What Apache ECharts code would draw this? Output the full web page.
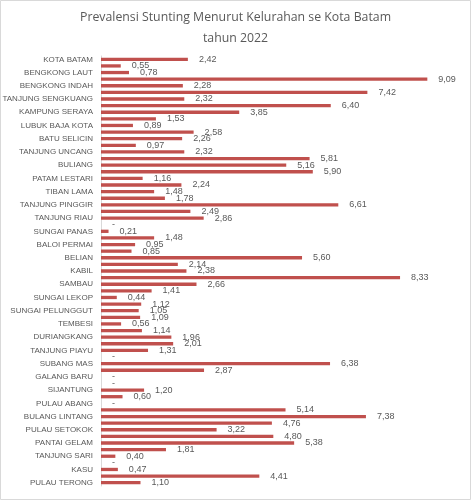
<!DOCTYPE html>
<html>
<head>
<meta charset="utf-8">
<style>
  html, body { margin: 0; padding: 0; background: #fff; }
  #chart { width: 471px; height: 500px; }
</style>
<script src="https://cdn.jsdelivr.net/npm/echarts@6/dist/echarts.min.js"></script>
</head>
<body>
<div id="chart"></div>
<script>
// ---- data (top to bottom); only every other row carries a visible label ----
const categories = [
    'KOTA BATAM', '', 'BENGKONG LAUT', '', 'BENGKONG INDAH', '', 'TANJUNG SENGKUANG', '',
    'KAMPUNG SERAYA', '', 'LUBUK BAJA KOTA', '', 'BATU SELICIN', '', 'TANJUNG UNCANG', '',
    'BULIANG', '', 'PATAM LESTARI', '', 'TIBAN LAMA', '', 'TANJUNG PINGGIR', '',
    'TANJUNG RIAU', '', 'SUNGAI PANAS', '', 'BALOI PERMAI', '', 'BELIAN', '',
    'KABIL', '', 'SAMBAU', '', 'SUNGAI LEKOP', '', 'SUNGAI PELUNGGUT', '',
    'TEMBESI', '', 'DURIANGKANG', '', 'TANJUNG PIAYU', '', 'SUBANG MAS', '',
    'GALANG BARU', '', 'SIJANTUNG', '', 'PULAU ABANG', '', 'BULANG LINTANG', '',
    'PULAU SETOKOK', '', 'PANTAI GELAM', '', 'TANJUNG SARI', '', 'KASU', '',
    'PULAU TERONG'
];
const prevalensi = [
    2.42, 0.55, 0.78, 9.09, 2.28, 7.42, 2.32, 6.40,
    3.85, 1.53, 0.89, 2.58, 2.26, 0.97, 2.32, 5.81,
    5.16, 5.90, 1.16, 2.24, 1.48, 1.78, 6.61, 2.49,
    2.86, 0, 0.21, 1.48, 0.95, 0.85, 5.60, 2.14,
    2.38, 8.33, 2.66, 1.41, 0.44, 1.12, 1.05, 1.09,
    0.56, 1.14, 1.96, 2.01, 1.31, 0, 6.38, 2.87,
    0, 0, 1.20, 0.60, 0, 5.14, 7.38, 4.76,
    3.22, 4.80, 5.38, 1.81, 0.40, 0, 0.47, 4.41,
    1.10
];

const chart = echarts.init(document.getElementById('chart'));
chart.setOption({
    backgroundColor: '#fff',
    animation: false,
    title: {
        text: 'Prevalensi Stunting Menurut Kelurahan se Kota Batam\ntahun 2022',
        left: 'center',
        top: 2,
        textStyle: {
            fontFamily: 'Open Sans',
            fontSize: 12.3,
            fontWeight: 'normal',
            color: '#595959',
            lineHeight: 21,
        },
    },
    graphic: [{
        type: 'rect',
        shape: { x: 0.5, y: 0.5, width: 470, height: 499 },
        style: { fill: 'none', stroke: '#d9d9d9', lineWidth: 1 },
        silent: true,
    }],
    grid: { left: 101, right: 11, top: 56, bottom: 14, outerBoundsMode: 'none', containLabel: false },
    xAxis: {
        type: 'value',
        min: 0,
        max: 10,
        show: false,
    },
    yAxis: {
        type: 'category',
        data: categories,
        inverse: true,
        axisLine: { lineStyle: { color: '#d9d9d9' } },
        axisTick: { show: false },
        axisLabel: {
            interval: 0,
            margin: 8,
            fontFamily: 'Liberation Sans',
            fontSize: 8,
            color: '#595959',
        },
    },
    series: [{
        type: 'bar',
        data: prevalensi,
        barWidth: 3.3,
        itemStyle: { color: '#c0504d' },
        label: {
            show: true,
            position: 'right',
            distance: 11,
            fontFamily: 'Liberation Sans',
            fontSize: 9,
            color: '#595959',
            formatter: p => p.value === 0 ? '-' : p.value.toFixed(2).replace('.', ','),
        },
    }],
});
</script>
</body>
</html>
